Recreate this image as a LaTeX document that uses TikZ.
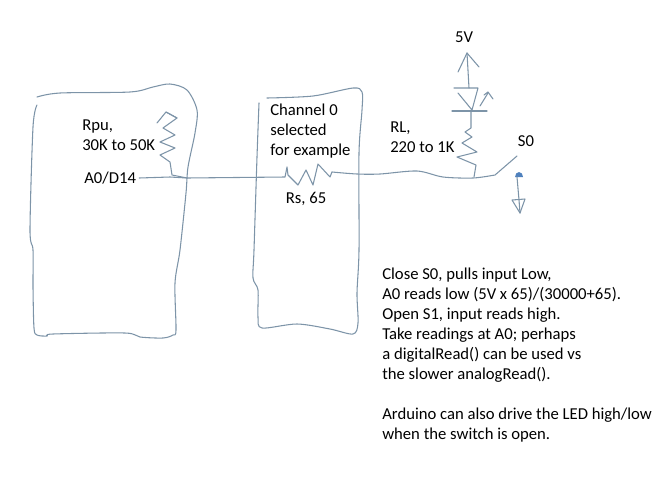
\documentclass[tikz,border=0pt]{standalone}
\usepackage{fontspec}
\setmainfont{Carlito}
\usetikzlibrary{backgrounds}
\definecolor{penblue}{HTML}{7D94A8}
\definecolor{dotblue}{HTML}{4F81BD}
\tikzset{pen/.style={draw=penblue,line width=0.8pt,line join=round,line cap=round},
label/.style={anchor=west,inner sep=0pt,align=left,font=\fontsize{12.5}{15}\selectfont}}

\begin{document}
\begin{tikzpicture}[x=0.75pt,y=-0.75pt]
\useasboundingbox (0,0) rectangle (666,500);
% left box
\draw[pen] plot[smooth,tension=0.5] coordinates {(37,97) (60,93) (130,92) (153,87) (170,84) (187,90) (197,110) (195,133) (188,167) (186,193) (180,250) (175,283) (176,330) (173,335) (163,338) (140,337) (125,333) (53,334) (47,336) (37,335) (34,328) (33,287) (33,250) (30,230) (33,127) (37,105)};
% channel box
\draw[pen] plot[smooth,tension=0.5] coordinates {(267,98) (313,96) (353,88) (362,92) (362,110) (359,153) (359,250) (357,293) (358,323) (353,334) (330,329) (297,324) (262,328) (258,317) (258,290) (253,278) (254,250) (257,157) (259,103)};
% labels
\node (rpu) at (82,135.5) [label] {Rpu,\\30K to 50K};
\node (a0) at (84,178) [label] {A0/D14};
\node (chan) at (270,131.5) [label] {Channel 0\\selected\\for example};
\node (rs) at (306,199) [label,anchor=center] {Rs, 65};
\node (rl) at (390,137) [label] {RL,\\220 to 1K};
\node (five) at (464,37) [label,anchor=center] {5V};
\node (szero) at (526,141) [label,anchor=center] {S0};
\node (notes) at (382,355) [label] {Close S0, pulls input Low,\\A0 reads low (5V x 65)/(30000+65).\\Open S1, input reads high.\\Take readings at A0; perhaps\\a digitalRead() can be used vs\\the slower analogRead().\\[15pt]Arduino can also drive the LED high/low\\when the switch is open.};
% junctions
\coordinate (ja) at (187,178);
\coordinate (jb) at (474,177);
\coordinate (arm) at (517,156);
\coordinate (tipa) at (166,112);
\coordinate (tipb) at (467,53);
\coordinate (tipc) at (520,213);
% main wire with Rs
\draw[pen] (a0.east)+(3,0) -- (170,177) -- (ja) -- (285,177) -- (287,167) -- (288,175) -- (298,185) -- (306,170) -- (313,185) -- (318,164) -- (330,177) -- (332,172);
\draw[pen] plot[smooth,tension=0.5] coordinates {(332,172) (357,174) (380,174) (417,171) (443,177) (473,178) (495,175)} -- (arm);
% Rpu
\draw[pen] (ja) -- (172,175) -- (170,162) -- (160,155) -- (175,148) -- (160,142) -- (175,135) -- (163,128) -- (177,118) -- (tipa);
\draw[pen] (157,123) -- (tipa) -- (177,118);
% RL and LED
\draw[pen] (jb) -- (476,165) -- (457,157) -- (477,152) -- (462,143) -- (472,137) -- (465,132) -- (471,128) -- (471,111);
\draw[pen] (452,111) -- (487,111);
\draw[pen] (454,88) -- (478,88) -- (472,110) -- (458,93);
\draw[pen] (469,88) -- (tipb);
\draw[pen] (458,72) -- (tipb) -- (479,67);
\draw[pen] (480,106) -- (488,93);
\draw[pen] (484,95) -- (488,92) -- (493,99);
% switch contact
\fill[dotblue] (515,177) arc (180:360:4 and 5) -- cycle;
\draw[pen] (517,177) -- (519,200) -- (tipc);
\draw[pen] (512,200) -- (tipc) -- (525,199) -- cycle;
\end{tikzpicture}
\end{document}
